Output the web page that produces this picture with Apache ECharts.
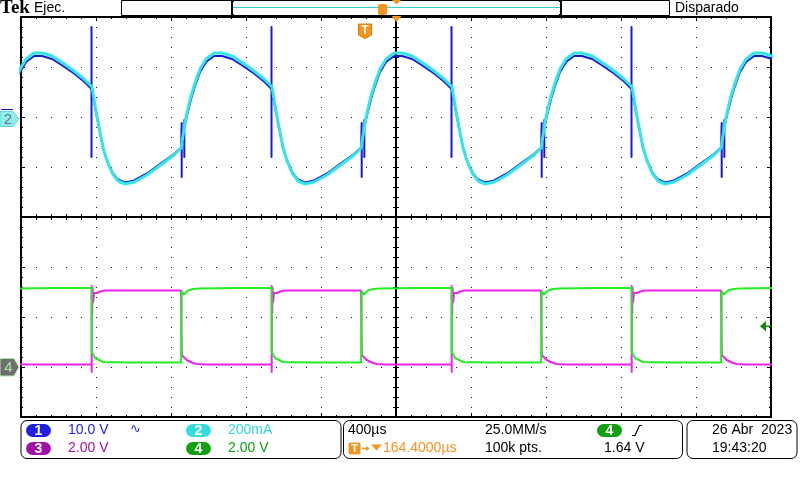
<!DOCTYPE html>
<html>
<head>
<meta charset="utf-8">
<script src="https://cdn.jsdelivr.net/npm/echarts@6/dist/echarts.min.js"></script>
<style>
  html, body { margin: 0; padding: 0; background: #fff; }
  #chart { width: 800px; height: 480px; }
</style>
</head>
<body>
<div id="chart"></div>
<script>
// time axis in µs (400 µs/div, trigger point at the centre), levels in screen divisions (0 = centre line)
// falling edges of ch4 (the last one is just past the right border)
const fallingEdges = [-1621, -661, 299, 1259, 2219]

// one period of each trace, [µs from the falling edge, divisions]
const ch1Shape = [
  [-482, 1.40], [-482, 1.88], [-482, 0.80], [-482, 1.42], [-468, 1.78], [-468, 1.94], [-468, 1.20], [-468, 1.80],
  [-448, 2.12], [-432, 2.36], [-411, 2.62], [-384, 2.90], [-352, 3.10], [-309, 3.22], [-267, 3.22],
  [-213, 3.16], [-155, 3.02], [-96, 2.87], [-43, 2.71], [-3, 2.56], [-3, 3.80], [-3, 1.20], [-3, 2.54],
  [11, 2.30], [27, 1.98], [43, 1.67], [59, 1.38], [80, 1.13], [107, 0.90], [139, 0.75], [176, 0.69],
  [224, 0.73], [293, 0.87], [373, 1.09], [437, 1.26], [475, 1.39]
]
const ch2Shape = [
  [-477, 1.40], [-464, 1.90], [-448, 2.18], [-432, 2.42], [-411, 2.68], [-384, 2.96], [-352, 3.16],
  [-309, 3.28], [-267, 3.28], [-213, 3.22], [-155, 3.08], [-96, 2.92], [-43, 2.76], [0, 2.60],
  [11, 2.34], [27, 2.00], [43, 1.68], [59, 1.38], [80, 1.12], [107, 0.88], [139, 0.72], [176, 0.66],
  [224, 0.70], [293, 0.84], [373, 1.06], [437, 1.24], [475, 1.38]
]
const ch3Shape = [
  [-482, -1.47], [-482, -2.76], [-477, -2.80], [-455, -2.86], [-428, -2.91], [-403, -2.94], [-350, -2.95],
  [-2, -2.95], [-2, -3.10], [-2, -1.38], [1, -1.92], [3, -1.42], [6, -1.70], [10, -1.52], [27, -1.52],
  [43, -1.49], [69, -1.47], [475, -1.47]
]
const ch4Shape = [
  [-482, -2.91], [-482, -1.48], [-470, -1.55], [-464, -1.52], [-448, -1.47],
  [-421, -1.44], [-384, -1.43], [-200, -1.42], [-2, -1.42], [-2, -2.70], [16, -2.82], [43, -2.87],
  [59, -2.90], [200, -2.91], [475, -2.91]
]

const timeMin = -2000
const timeMax = 2000
const timeStep = 400
const divMin = -4
const divMax = 4

const orange = '#f7941d'
const font = '"Liberation Sans", Arial, sans-serif'

// lay the period shapes at every edge
function tile (shape) {
  let out = []
  fallingEdges.forEach(function (f) {
    shape.forEach(function (p) { out.push([f + p[0], p[1]]) })
  })
  return out
}

function borderX (pos, grid) {
  return {
    type: 'value', min: timeMin, max: timeMax, interval: timeStep, position: pos,
    axisLine: { onZero: false, lineStyle: { color: '#000', width: 2 } },
    axisTick: { inside: true, length: 4, lineStyle: { color: '#000' } },
    minorTick: { show: true, splitNumber: 5, length: 2, lineStyle: { color: '#000' } },
    axisLabel: { show: false },
    splitLine: { show: grid, lineStyle: { color: '#111', width: 1, type: [1, 9] } }
  }
}
function borderY (pos, grid) {
  return {
    type: 'value', min: divMin, max: divMax, interval: 1, position: pos,
    axisLine: { onZero: false, lineStyle: { color: '#000', width: 2 } },
    axisTick: { inside: true, length: 4, lineStyle: { color: '#000' } },
    minorTick: { show: true, splitNumber: 5, length: 2, lineStyle: { color: '#000' } },
    axisLabel: { show: false },
    splitLine: { show: grid, lineStyle: { color: '#111', width: 1, type: [1, 14] } }
  }
}
// centre cross, ticks on both sides
function centreX (inside) {
  return {
    type: 'value', min: timeMin, max: timeMax, interval: timeStep, position: 'bottom',
    axisLine: { onZero: true, onZeroAxisIndex: 0, lineStyle: { color: '#000', width: 2 } },
    axisTick: { inside: inside, length: 3, lineStyle: { color: '#000' } },
    minorTick: { show: true, splitNumber: 5, length: 3, lineStyle: { color: '#000' } },
    axisLabel: { show: false }, splitLine: { show: false }
  }
}
function centreY (inside) {
  return {
    type: 'value', min: divMin, max: divMax, interval: 1, position: 'left',
    axisLine: { onZero: true, onZeroAxisIndex: 0, lineStyle: { color: '#000', width: 2 } },
    axisTick: { inside: inside, length: 3, lineStyle: { color: '#000' } },
    minorTick: { show: true, splitNumber: 5, length: 3, lineStyle: { color: '#000' } },
    axisLabel: { show: false }, splitLine: { show: false }
  }
}

function txt (x, y, text, color, f, align) {
  return {
    type: 'text', x: x, y: y, z: 50,
    style: { text: text, fill: color, font: f || ('14px ' + font), align: align || 'left', textAlign: align || 'left', verticalAlign: 'middle', textVerticalAlign: 'middle' }
  }
}
function badge (x, y, w, h, label, color) {
  return [
    { type: 'rect', z: 50, shape: { x: x, y: y, width: w, height: h, r: h / 2 }, style: { fill: color } },
    txt(x + w / 2, y + h / 2 + 0.5, label, '#fff', 'bold 14px ' + font, 'center')
  ]
}
function box (x, y, w, h) {
  return { type: 'rect', z: 50, shape: { x: x, y: y, width: w, height: h, r: 6 }, style: { fill: '#fff', stroke: '#000', lineWidth: 1 } }
}
function poly (points, color, stroke) {
  return { type: 'polygon', z: 50, shape: { points: points }, style: { fill: color, stroke: stroke || null, lineWidth: 1 } }
}
function seg (points, color, w) {
  return { type: 'polyline', z: 50, shape: { points: points }, style: { stroke: color, lineWidth: w || 1, fill: null } }
}

let elements = [
  // top bar
  txt(0, 8.5, 'Tek', '#000', 'bold 19px "Liberation Serif", serif'),
  txt(34, 8.5, 'Ejec.', '#000'),
  { type: 'rect', z: 50, shape: { x: 121.5, y: 0.5, width: 548, height: 15 }, style: { fill: '#fff', stroke: '#000', lineWidth: 1 } },
  seg([[234, 1], [232, 1], [232, 15], [234, 15]], '#000', 2),
  seg([[559, 1], [561, 1], [561, 15], [559, 15]], '#000', 2),
  seg([[233, 7.5], [560, 7.5]], '#33cccc', 1),
  { type: 'rect', z: 51, shape: { x: 378, y: 4, width: 9, height: 11, r: 2 }, style: { fill: orange } },
  txt(382.5, 9.5, 'T', '#fff', 'bold 9px ' + font, 'center'),
  poly([[392, 0], [401, 0], [396.5, 4.5]], orange),
  txt(675, 8, 'Disparado', '#000', '14px ' + font),
  // trigger position markers
  poly([[391.5, 16], [401.5, 16], [396.5, 22]], orange),
  poly([[358.5, 24], [371.5, 24], [371.5, 35], [365, 38.5], [358.5, 35]], orange, '#d97a00'),
  txt(365, 30.5, 'T', '#fff', 'bold 12px ' + font, 'center'),
  // channel ground markers
  seg([[1, 109.5], [13, 109.5]], '#1a1a8c', 1),
  poly([[0, 111.5], [13, 111.5], [18.5, 119], [13, 126.5], [0, 126.5]], '#8ceeee', '#60d8d8'),
  txt(8, 119.5, '2', '#6c7676', '15px ' + font, 'center'),
  poly([[0, 358.5], [14, 358.5], [19, 367], [14, 376], [0, 376]], '#6e6e6e', '#a8eca8'),
  txt(8.5, 367.5, '4', '#a6e6a6', '15px ' + font, 'center'),
  // trigger level
  poly([[760, 326.3], [766, 321], [766, 331.6]], '#0a8c0a'),
  seg([[765, 326.3], [771, 326.3]], '#0a8c0a', 1.5),
  // bottom read-out
  box(21, 420.5, 320, 38),
  box(343.5, 420.5, 339, 38),
  box(687, 420.5, 110, 38)
]
elements = elements.concat(
  badge(26, 424, 25, 13, '1', '#1f1fe6'),
  [txt(68, 430.5, '10.0 V', '#2020f0'), txt(130, 429.5, '∿', '#2020f0', '13px "DejaVu Sans"')],
  badge(186, 424, 25, 13, '2', '#33dddd'),
  [txt(228, 430.5, '200mA', '#30d8d8')],
  badge(26, 442, 25, 13, '3', '#a010a8'),
  [txt(68, 448.5, '2.00 V', '#a010a8')],
  badge(186, 442, 25, 13, '4', '#10a010'),
  [txt(228, 448.5, '2.00 V', '#10a010')],
  [
    txt(348, 430.5, '400µs', '#000'),
    { type: 'rect', z: 50, shape: { x: 348.5, y: 442.5, width: 12, height: 12, r: 2 }, style: { fill: orange } },
    txt(354.5, 449, 'T', '#fff', 'bold 11px ' + font, 'center'),
    seg([[362, 448.5], [369, 448.5]], orange, 1.5),
    poly([[366, 446], [369.5, 448.5], [366, 451]], orange),
    poly([[371, 444.5], [382, 444.5], [376.5, 450.5]], orange),
    txt(383, 448.5, '164.4000µs', orange),
    txt(485, 430.5, '25.0MM/s', '#000'),
    txt(485, 448.5, '100k pts.', '#000')
  ],
  badge(597, 424, 25, 13, '4', '#10a010'),
  [
    seg([[632, 435.5], [635, 435.5], [639.5, 425.5], [642, 425.5]], '#000', 1.2),
    txt(604, 448.5, '1.64 V', '#000'),
    txt(712, 430.5, '26 Abr  2023', '#000'),
    txt(712, 448.5, '19:43:20', '#000')
  ]
)

function traceSeries (data, color, width) {
  return {
    type: 'line', data: data, xAxisIndex: 0, yAxisIndex: 0,
    symbol: 'none', showSymbol: false, silent: true, clip: true,
    lineStyle: { color: color, width: width, join: 'round' },
    itemStyle: { color: color }, z: 5
  }
}

let myChart = echarts.init(document.getElementById('chart'))
let option = {
  animation: false,
  backgroundColor: '#fff',
  grid: { left: 21, top: 17, width: 750, height: 400, show: false },
  xAxis: [borderX('bottom', true), borderX('top', false), centreX(true), centreX(false)],
  yAxis: [borderY('left', true), borderY('right', false), centreY(true), centreY(false)],
  series: [
    traceSeries(tile(ch1Shape), '#1818dc', 2),
    traceSeries(tile(ch2Shape), '#33e6e6', 3),
    traceSeries(tile(ch3Shape), '#f022f0', 2),
    traceSeries(tile(ch4Shape), '#22ee22', 2)
  ],
  graphic: { elements: elements }
}
myChart.setOption(option)
</script>
</body>
</html>
